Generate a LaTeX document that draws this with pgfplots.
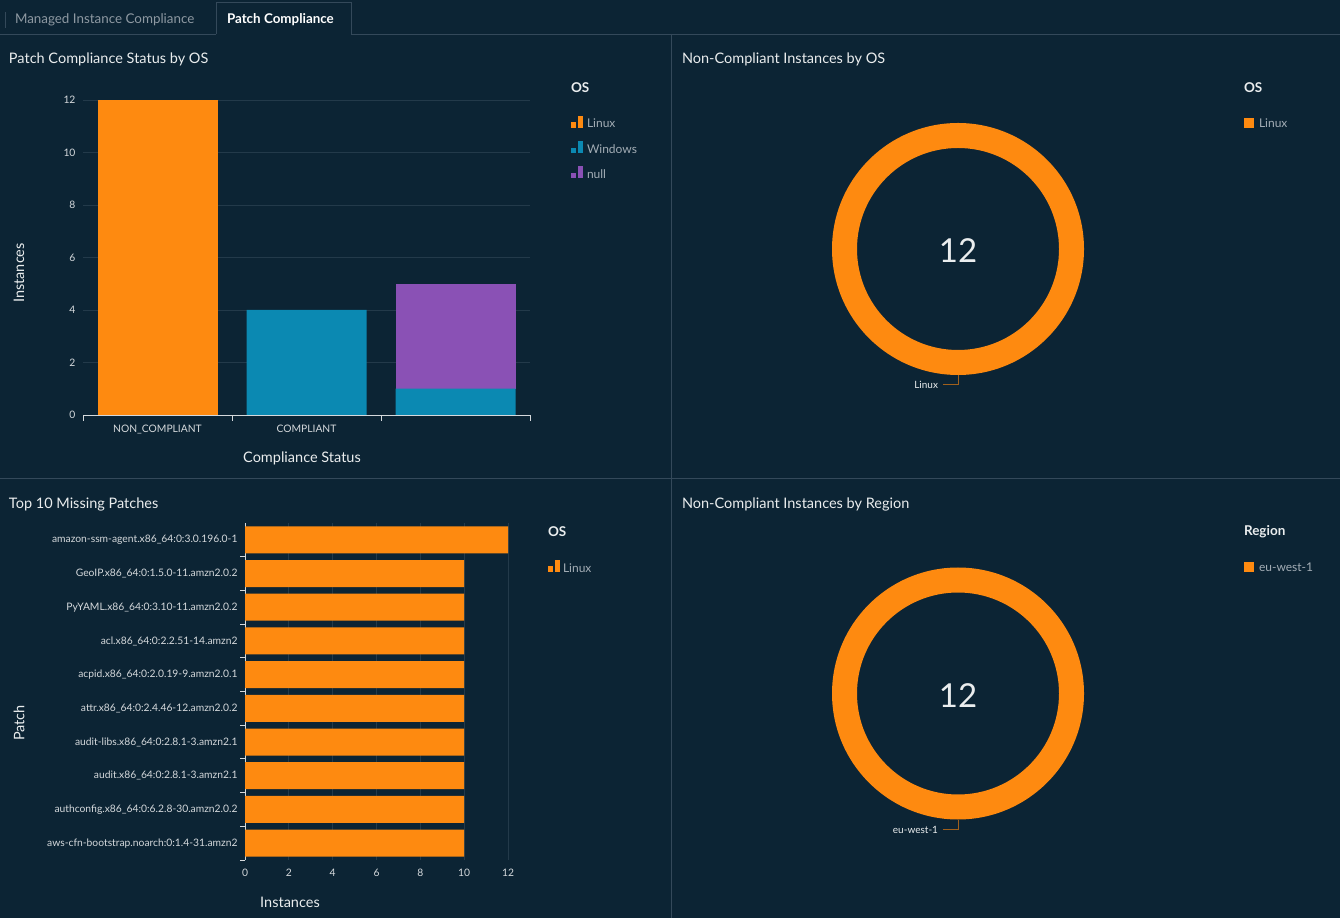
\documentclass[border=0pt]{standalone}
\usepackage{fontspec}
\setmainfont{Lato}
\usepackage{pgfplots}
\usepackage{pgfplotstable}
\pgfplotsset{compat=1.18}
\usetikzlibrary{calc}

\definecolor{bg}{HTML}{0C2434}
\definecolor{rulec}{HTML}{34495A}
\definecolor{gridc}{HTML}{233A4A}
\definecolor{linux}{HTML}{FE8A10}
\definecolor{windows}{HTML}{0B89B2}
\definecolor{nullc}{HTML}{8A51B5}
\definecolor{titlec}{HTML}{EAEDEE}
\definecolor{tickc}{HTML}{D5D9DC}
\definecolor{legc}{HTML}{A3ADB5}
\definecolor{leader}{HTML}{A0601C}
\definecolor{tabgray}{HTML}{8E99A2}

% compliance status by OS (stacked)
\pgfplotstableread{
idx linux windows null
0   12    0       0
1   0     4       0
2   0     1       4
}\statusdata

% top 10 missing patches (0 = bottom row)
\pgfplotstableread{
pos count
9   12
8   10
7   10
6   10
5   10
4   10
3   10
2   10
1   10
0   10
}\patchdata

% donut values
\def\osval{12}\def\ostot{12}
\def\regval{12}\def\regtot{12}

\tikzset{
  t/.style={inner sep=0pt, outer sep=0pt},
  title/.style={t, anchor=west, text=titlec, font=\fontsize{14.5}{16}\selectfont},
  lab/.style={t, text=titlec, font=\fontsize{14.5}{16}\selectfont},
  leghead/.style={t, anchor=west, text=titlec, font=\fontsize{13.5}{15}\selectfont\bfseries},
  legtext/.style={t, anchor=west, text=legc, font=\fontsize{12}{13}\selectfont},
}
\newcommand\legbars[3]{% colour, x, baseline
  \fill[#1] (#2,#3) rectangle ++(4.5,5.5);
  \fill[#1] ($(#2,#3)+(6.5,0)$) rectangle ++(5,12);
}
% annular slice: value, total (inside a donut axis, radii in pt)
\newcommand\donutslice[2]{%
  \pgfmathsetmacro\sweep{360*#1/#2}%
  \fill[linux] (axis cs:0,0) ++(90:126pt)
    arc[start angle=90, delta angle=-\sweep, radius=126pt]
    -- ++(90-\sweep:-25pt)
    arc[start angle=90-\sweep, delta angle=\sweep, radius=101pt] -- cycle;
}

\pgfplotsset{
  dash/.style={
    scale only axis, enlargelimits=false,
    /pgf/number format/assume math mode=true,
    tick label style={font=\fontsize{10.3}{11}\selectfont, text=tickc},
    major tick length=0pt,
    grid style={gridc, line width=0.7pt},
  },
  donut/.style={
    anchor=center, scale only axis,
    width=252pt, height=252pt, xmin=-1, xmax=1, ymin=-1, ymax=1,
    hide axis, clip=false,
  }
}

\begin{document}
\begin{tikzpicture}[x=1pt,y=1pt]
\fill[bg] (0,0) rectangle (1340,918);
\useasboundingbox (0,0) rectangle (1340,918);

% tabs
\draw[rulec] (0,884) -- (216,884);
\draw[rulec] (351,884) -- (1340,884);
\draw[rulec] (216,884) -- (216,916) -- (351,916) -- (351,884);
\draw[rulec] (5,890) -- (5,906);
\node[t, anchor=west, text=tabgray, font=\fontsize{13.4}{15}\selectfont] at (15,898) {Managed Instance Compliance};
\node[t, anchor=west, text=white, font=\fontsize{13.4}{15}\selectfont\bfseries] at (227,898) {Patch Compliance};

% panel borders
\draw[rulec] (0,440) -- (1340,440);
\draw[rulec] (671,0) -- (671,884);

% titles
\node[title] at (9,859) {Patch Compliance Status by OS};
\node[title] at (682,859) {Non-Compliant Instances by OS};
\node[title] at (9,414) {Top 10 Missing Patches};
\node[title] at (682,414) {Non-Compliant Instances by Region};

% ---- stacked bars
\begin{axis}[dash,
  at={(83pt,503pt)}, anchor=south west, width=447pt, height=315pt,
  xmin=-0.5, xmax=2.5, ymin=0, ymax=12,
  ybar stacked, bar width=120pt,
  axis x line*=bottom, axis y line*=left,
  y axis line style={draw=none},
  x axis line style={tickc, line width=0.8pt, -},
  xtick={0,1,2}, xticklabels={NON\_COMPLIANT,COMPLIANT,{}},
  xticklabel style={yshift=-6.5pt},
  extra x ticks={-0.5,0.5,1.5,2.5}, extra x tick labels={},
  extra x tick style={major tick length=6pt, tick align=outside,
    tick style={tickc, line width=0.8pt}},
  ytick={0,2,...,12}, ymajorgrids,
  yticklabel style={xshift=-4pt},
]
\addplot[fill=linux, draw=none] table[x=idx, y=linux] {\statusdata};
\addplot[fill=windows, draw=none] table[x=idx, y=windows] {\statusdata};
\addplot[fill=nullc, draw=none] table[x=idx, y=null] {\statusdata};
\end{axis}
\node[lab] at (302,460) {Compliance Status};
\node[lab, rotate=90] at (19,645) {Instances};

% legend
\node[leghead] at (571,830) {OS};
\legbars{linux}{571}{790.3}
\node[legtext] at (587,794.5) {Linux};
\legbars{windows}{571}{764.7}
\node[legtext] at (587,769) {Windows};
\legbars{nullc}{571}{739.7}
\node[legtext] at (587,744) {null};

% ---- horizontal bars
\begin{axis}[dash,
  at={(245pt,58pt)}, anchor=south west, width=263pt, height=337pt,
  xmin=0, xmax=12, ymin=-0.5, ymax=9.5,
  xbar, bar width=27pt,
  axis x line*=bottom, axis y line*=left,
  x axis line style={draw=none},
  y axis line style={tickc, line width=0.8pt, -},
  xtick={0,2,...,12}, xmajorgrids,
  xticklabel style={yshift=-5.5pt},
  ytick={0,...,9},
  yticklabels={
    aws-cfn-bootstrap.noarch:0:1.4-31.amzn2,
    authconfig.x86\_64:0:6.2.8-30.amzn2.0.2,
    audit.x86\_64:0:2.8.1-3.amzn2.1,
    audit-libs.x86\_64:0:2.8.1-3.amzn2.1,
    attr.x86\_64:0:2.4.46-12.amzn2.0.2,
    acpid.x86\_64:0:2.0.19-9.amzn2.0.1,
    acl.x86\_64:0:2.2.51-14.amzn2,
    PyYAML.x86\_64:0:3.10-11.amzn2.0.2,
    GeoIP.x86\_64:0:1.5.0-11.amzn2.0.2,
    amazon-ssm-agent.x86\_64:0:3.0.196.0-1},
  yticklabel style={xshift=-4pt},
  extra y ticks={-0.5,0.5,...,8.5}, extra y tick labels={},
  extra y tick style={major tick length=5pt, tick align=outside,
    tick style={tickc, line width=0.8pt}},
]
\addplot[fill=linux, draw=none] table[x=count, y=pos] {\patchdata};
\end{axis}
\node[lab] at (290,16) {Instances};
\node[lab, rotate=90] at (19,195) {Patch};

\node[leghead] at (548,386) {OS};
\legbars{linux}{548}{346}
\node[legtext] at (563,350) {Linux};

% ---- donut: by OS
\begin{axis}[donut, at={(958pt,669pt)}]
\donutslice{\osval}{\ostot}
\node[t, text=titlec, font=\fontsize{33}{36}\selectfont] at (axis cs:0,-0.015) {\osval};
\coordinate (osfoot) at (axis cs:0,-1);
\end{axis}
\draw[leader, line width=1pt] (osfoot) -- ++(0,-10) -- ++(-15,0)
  node[t, anchor=east, xshift=-5pt, text=titlec, font=\fontsize{10}{11}\selectfont] {Linux};
\node[leghead] at (1244,830) {OS};
\fill[linux] (1244,790) rectangle ++(10,10);
\node[legtext] at (1259,795) {Linux};

% ---- donut: by region
\begin{axis}[donut, at={(958pt,224.5pt)}]
\donutslice{\regval}{\regtot}
\node[t, text=titlec, font=\fontsize{33}{36}\selectfont] at (axis cs:0,-0.015) {\regval};
\coordinate (regfoot) at (axis cs:0,-1);
\end{axis}
\draw[leader, line width=1pt] (regfoot) -- ++(0,-10) -- ++(-15,0)
  node[t, anchor=east, xshift=-5pt, text=titlec, font=\fontsize{10}{11}\selectfont] {eu-west-1};
\node[leghead] at (1244,386) {Region};
\fill[linux] (1244,346) rectangle ++(10,10);
\node[legtext] at (1259,351) {eu-west-1};
\end{tikzpicture}
\end{document}
